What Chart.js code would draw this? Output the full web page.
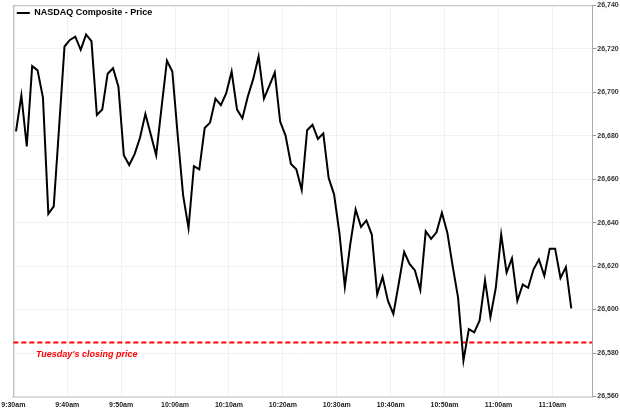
<!DOCTYPE html>
<html>
<head>
<meta charset="utf-8">
<title>NASDAQ Composite - Price</title>
<script src="https://cdn.jsdelivr.net/npm/chart.js@4/dist/chart.umd.min.js"></script>
<style>
    html, body { margin: 0; padding: 0; background: #fff; }
    #wrap { width: 620px; height: 408px; position: relative; }
</style>
</head>
<body>
<div id="wrap"><canvas id="priceChart"></canvas></div>
<script>
// One-minute prices from 9:30am
const seriesName = 'NASDAQ Composite - Price';
const prices = [
    26682, 26698.5, 26675, 26712, 26710, 26697.5, 26644, 26647.5, 26684, 26721,
    26724, 26725.5, 26719.5, 26726.5, 26723.5, 26689.5, 26692, 26708.5, 26711, 26702.5,
    26671, 26666.5, 26671.5, 26679, 26690, 26680.5, 26671, 26693, 26714.5, 26709.5,
    26680, 26652.5, 26637.5, 26666, 26664.5, 26683.5, 26686, 26697, 26694, 26699.5,
    26709.5, 26692, 26688, 26698, 26706, 26716.5, 26697, 26703, 26709, 26686.5,
    26680, 26667, 26664.5, 26655, 26682.5, 26685, 26678.5, 26681, 26660.5, 26653,
    26635, 26610.5, 26630, 26646, 26638, 26641, 26634.5, 26607, 26615, 26604,
    26598, 26612, 26626.5, 26621, 26618, 26609, 26636, 26632.5, 26635.5, 26644.5,
    26635.5, 26620, 26605.5, 26576.5, 26591, 26589.5, 26595, 26613.5, 26596.5, 26610,
    26634.5, 26617, 26623.5, 26604, 26611.5, 26610, 26618.5, 26623, 26615.5, 26628,
    26628, 26614.5, 26619.5, 26600.5
];
const closingLabel = "Tuesday's closing price";
const closingPrice = 26584.8;
const timeTicks = ['9:30am', '9:40am', '9:50am', '10:00am', '10:10am', '10:20am',
                   '10:30am', '10:40am', '10:50am', '11:00am', '11:10am'];
const priceTicks = [26560, 26580, 26600, 26620, 26640, 26660, 26680, 26700, 26720, 26740];

const FONT = "'Liberation Sans', Arial, sans-serif";
const X_MAX = 107.4; // minutes after 9:30 shown on the axis

class PriceChart {
    constructor() {
        this.canvas = document.getElementById('priceChart');
        this.chart = null;
        this.init();
    }

    init() {
        // each bar is plotted at the middle of its minute
        const pricePoints = prices.map((p, i) => ({ x: i + 0.5, y: p }));
        const closePoints = [{ x: 0, y: closingPrice }, { x: X_MAX, y: closingPrice }];

        this.chart = new Chart(this.canvas.getContext('2d'), {
            type: 'line',
            data: {
                datasets: [{
                    label: seriesName,
                    data: pricePoints,
                    borderColor: '#000',
                    backgroundColor: '#000',
                    borderWidth: 2,
                    pointRadius: 0,
                    tension: 0,
                    order: 0
                }, {
                    label: closingLabel,
                    data: closePoints,
                    borderColor: '#ff0000',
                    borderWidth: 2,
                    borderDash: [5, 3],
                    pointRadius: 0,
                    order: 1
                }]
            },
            options: {
                responsive: true,
                maintainAspectRatio: false,
                animation: false,
                layout: { padding: { left: 13.3, top: 4, right: 0, bottom: 0 } },
                plugins: {
                    tooltip: { enabled: false },
                    legend: {
                        position: 'chartArea',
                        align: 'start',
                        labels: {
                            boxWidth: 13,
                            boxHeight: 2,
                            padding: 3.5,
                            color: '#000',
                            font: { family: FONT, size: 9, weight: 'bold' },
                            filter: (item) => item.datasetIndex === 0,
                            generateLabels: (chart) => Chart.defaults.plugins.legend.labels
                                .generateLabels(chart)
                                .map(item => Object.assign(item, { lineWidth: 0, lineDash: [] }))
                        }
                    }
                },
                scales: {
                    x: {
                        type: 'linear',
                        min: 0,
                        max: X_MAX,
                        afterFit: (scale) => {
                            scale.height = 11.5;
                            scale.paddingLeft = 0;
                            scale.paddingRight = 0;
                        },
                        afterBuildTicks: (scale) => {
                            scale.ticks = timeTicks.map((t, i) => ({ value: i * 10 }));
                        },
                        ticks: {
                            autoSkip: false,
                            maxRotation: 0,
                            padding: 4,
                            color: '#222',
                            font: { family: FONT, size: 7, weight: 'bold' },
                            callback: (value) => timeTicks[Math.round(value / 10)]
                        },
                        grid: { color: '#f1f1f1', drawTicks: false },
                        border: { color: '#dcdcdc', width: 2 }
                    },
                    y: {
                        position: 'right',
                        min: priceTicks[0],
                        max: priceTicks[priceTicks.length - 1],
                        afterFit: (scale) => { scale.width = 27.7; },
                        afterBuildTicks: (scale) => {
                            scale.ticks = priceTicks.map(v => ({ value: v }));
                        },
                        ticks: {
                            padding: 1,
                            color: '#333',
                            font: { family: FONT, size: 7, weight: 'bold' },
                            callback: (value) => value.toLocaleString('en-US')
                        },
                        grid: { color: '#f1f1f1', tickColor: '#999', tickLength: 4 },
                        border: { color: '#aaa', width: 1 }
                    }
                }
            },
            plugins: [this.framePlugin(), this.closingLabelPlugin()]
        });
    }

    framePlugin() {
        return {
            id: 'frame',
            afterLayout(chart) {
                // nudge the in-plot legend down a little
                if (chart.legend) {
                    chart.legend.top += 5;
                    chart.legend.bottom += 5;
                }
            },
            beforeDatasetsDraw(chart) {
                const { ctx, chartArea } = chart;
                ctx.save();
                ctx.lineWidth = 1;
                ctx.strokeStyle = '#bbb';
                ctx.beginPath();
                ctx.moveTo(chartArea.left, chartArea.top + 0.5);
                ctx.lineTo(chartArea.right, chartArea.top + 0.5);
                ctx.stroke();
                ctx.strokeStyle = '#aaa';
                ctx.beginPath();
                ctx.moveTo(chartArea.left + 0.5, chartArea.top);
                ctx.lineTo(chartArea.left + 0.5, chartArea.bottom);
                ctx.stroke();
                ctx.restore();
            }
        };
    }

    closingLabelPlugin() {
        return {
            id: 'closingLabel',
            afterDatasetsDraw(chart) {
                const { ctx, scales } = chart;
                const x = scales.x.getPixelForValue(4.2);
                const y = scales.y.getPixelForValue(closingPrice) + 11.5;
                ctx.save();
                ctx.fillStyle = '#ff0000';
                ctx.font = `italic bold 9px ${FONT}`;
                ctx.textAlign = 'left';
                ctx.textBaseline = 'middle';
                ctx.fillText(closingLabel, x, y);
                ctx.restore();
            }
        };
    }
}

const priceChart = new PriceChart();
</script>
</body>
</html>
